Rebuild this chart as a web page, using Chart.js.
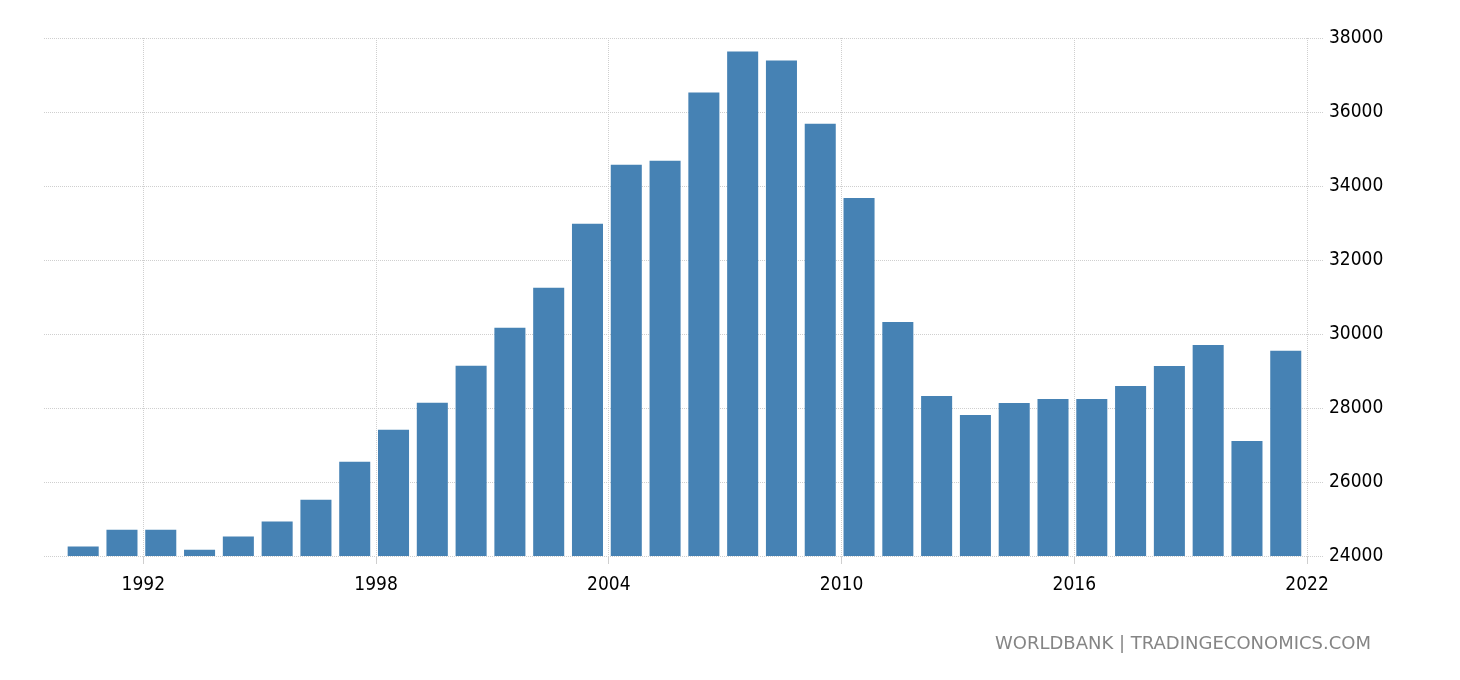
<!DOCTYPE html>
<html>
<head>
<meta charset="utf-8">
<script src="https://cdn.jsdelivr.net/npm/chart.js@4.4.1/dist/chart.umd.min.js"></script>
<style>
  html, body { margin: 0; padding: 0; background: #fff; }
  #wrap { position: relative; width: 1460px; height: 680px; }
  #source {
    position: absolute; right: 89px; top: 632px;
    font: 18px "DejaVu Sans", sans-serif;
    color: #858585; white-space: nowrap;
  }
</style>
</head>
<body>
<div id="wrap">
  <canvas id="chart" width="1460" height="680"></canvas>
  <div id="source">WORLDBANK | TRADINGECONOMICS.COM</div>
</div>
<script>
const years = [1990, 1991, 1992, 1993, 1994, 1995, 1996, 1997, 1998, 1999,
  2000, 2001, 2002, 2003, 2004, 2005, 2006, 2007, 2008, 2009,
  2010, 2011, 2012, 2013, 2014, 2015, 2016, 2017, 2018, 2019,
  2020, 2021];
const values = [24260, 24710, 24710, 24170, 24530, 24930, 25520, 26550, 27410, 28140,
  29145, 30170, 31250, 32980, 34575, 34685, 36525, 37635, 37390, 35685,
  33675, 30325, 28325, 27810, 28135, 28245, 28245, 28595, 29135, 29705,
  27110, 29545];
const xTicks = [1992, 1998, 2004, 2010, 2016, 2022];
const yTicks = [24000, 26000, 28000, 30000, 32000, 34000, 36000, 38000];

const FONT = '"DejaVu Sans Condensed", "DejaVu Sans", sans-serif';
const GRID = '#cfcfcf';

// bars sit just right of the year line, like the original
const points = years.map((yr, i) => ({ x: yr + 0.45, y: values[i] }));

new Chart(document.getElementById('chart'), {
  type: 'bar',
  data: {
    datasets: [{
      data: points,
      backgroundColor: '#4682b4',
      borderWidth: 0,
      barPercentage: 0.8,
      categoryPercentage: 1,
    }],
  },
  options: {
    responsive: false,
    animation: false,
    layout: { padding: { left: 44, top: 38, right: 0, bottom: 0 } },
    plugins: { legend: { display: false }, tooltip: { enabled: false } },
    scales: {
      x: {
        type: 'linear',
        offset: false,
        min: 1989.44,
        max: 2022.41,
        afterBuildTicks: s => { s.ticks = xTicks.map(v => ({ value: v })); },
        afterFit: s => { s.height = 124; },
        grid: { offset: false, color: GRID, tickColor: GRID, tickLength: 8, tickBorderDash: [] },
        border: { display: false, dash: [1, 1] },
        ticks: {
          color: '#000', padding: 10, maxRotation: 0, autoSkip: false,
          font: { family: FONT, size: 19 },
          callback: v => String(v),
        },
      },
      y: {
        position: 'right',
        min: 24000,
        max: 38000,
        afterBuildTicks: s => { s.ticks = yTicks.map(v => ({ value: v })); },
        afterFit: s => { s.width = 137; },
        grid: { color: GRID, drawTicks: false },
        border: { display: false, dash: [1, 1] },
        ticks: {
          color: '#000', padding: 6,
          font: { family: FONT, size: 19 },
          callback: v => String(v),
        },
      },
    },
  },
});
</script>
</body>
</html>
